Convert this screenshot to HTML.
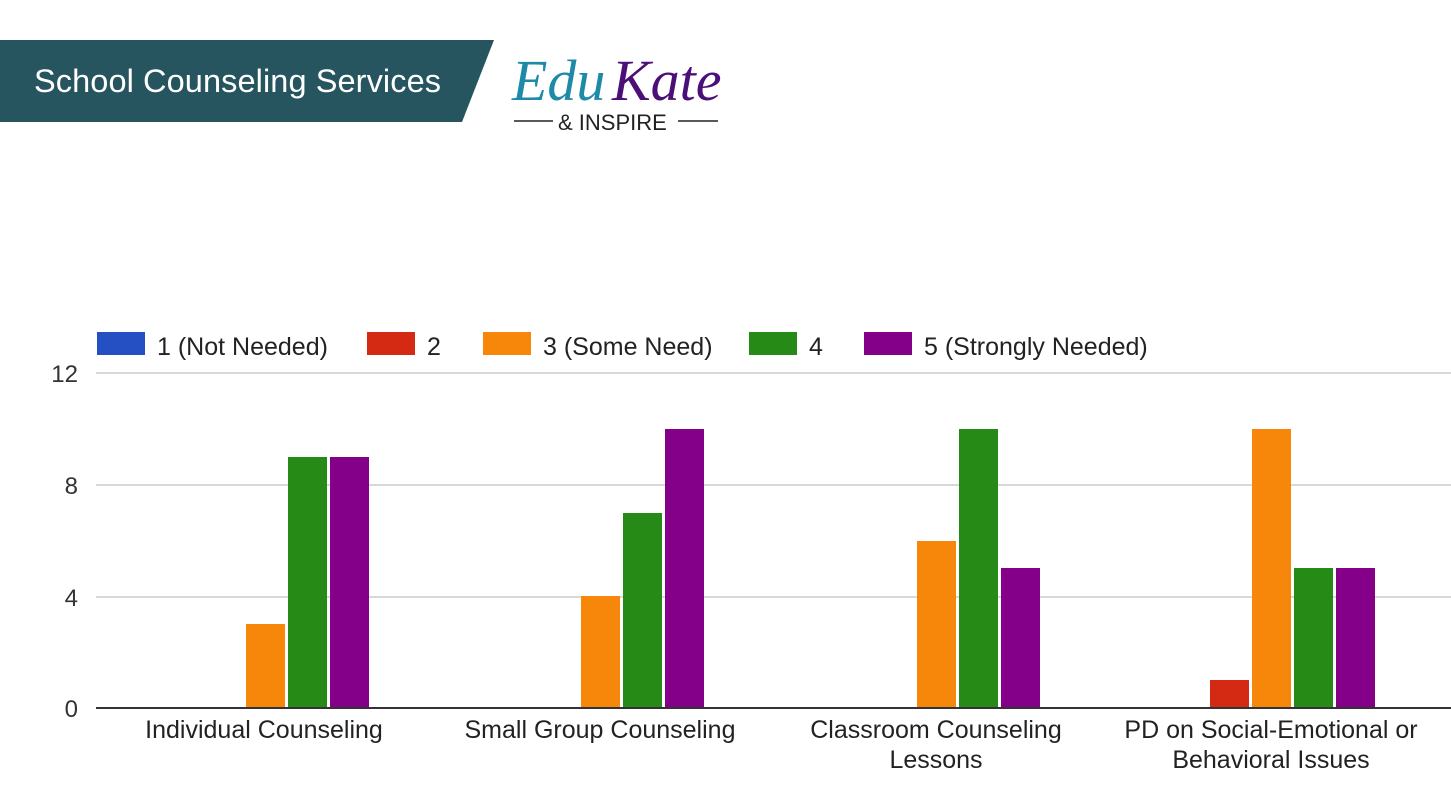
<!DOCTYPE html>
<html><head><style>
body{margin:0;width:1451px;height:798px;background:#fff;overflow:hidden;font-family:"Liberation Sans",sans-serif;}
</style></head><body>
<svg width="1451" height="798" xmlns="http://www.w3.org/2000/svg" font-family="Liberation Sans, sans-serif">
<polygon points="0,40 494,40 462,122 0,122" fill="#27555f"/>
<text x="34" y="92" font-size="32.5" fill="#fff" textLength="407">School Counseling Services</text>
<text x="512" y="100" font-size="58" font-family="Liberation Serif, serif" font-style="italic" fill="#1e8aa8">Edu</text>
<text x="612" y="100" font-size="58" font-family="Liberation Serif, serif" font-style="italic" fill="#4b0f78">Kate</text>
<line x1="514" y1="121" x2="553" y2="121" stroke="#222" stroke-width="1.5"/>
<text x="558" y="130" font-size="22" fill="#222">&amp; INSPIRE</text>
<line x1="678" y1="121" x2="718" y2="121" stroke="#222" stroke-width="1.5"/>

<g font-size="25" fill="#222">
<rect x="97" y="332" width="48" height="23" fill="#2550c4"/><text x="157" y="355">1 (Not Needed)</text>
<rect x="367" y="332" width="48" height="23" fill="#d42a14"/><text x="427" y="355">2</text>
<rect x="483" y="332" width="48" height="23" fill="#f7870b"/><text x="543" y="355">3 (Some Need)</text>
<rect x="749" y="332" width="48" height="23" fill="#258a16"/><text x="809" y="355">4</text>
<rect x="864" y="332" width="48" height="23" fill="#850088"/><text x="924" y="355">5 (Strongly Needed)</text>
</g>
<g stroke="#ccc" stroke-width="1.5">
<line x1="96" y1="373" x2="1451" y2="373"/>
<line x1="96" y1="485" x2="1451" y2="485"/>
<line x1="96" y1="597" x2="1451" y2="597"/>
</g>
<g font-size="24" fill="#333" text-anchor="end">
<text x="78" y="382">12</text><text x="78" y="494">8</text><text x="78" y="606">4</text><text x="78" y="717">0</text>
</g>
<g>
<rect x="246" y="624" width="39" height="84" fill="#f7870b"/>
<rect x="288" y="457" width="39" height="251" fill="#258a16"/>
<rect x="330" y="457" width="39" height="251" fill="#850088"/>

<rect x="581" y="596" width="39" height="112" fill="#f7870b"/>
<rect x="623" y="513" width="39" height="195" fill="#258a16"/>
<rect x="665" y="429" width="39" height="279" fill="#850088"/>

<rect x="917" y="541" width="39" height="167" fill="#f7870b"/>
<rect x="959" y="429" width="39" height="279" fill="#258a16"/>
<rect x="1001" y="568" width="39" height="140" fill="#850088"/>

<rect x="1210" y="680" width="39" height="28" fill="#d42a14"/>
<rect x="1252" y="429" width="39" height="279" fill="#f7870b"/>
<rect x="1294" y="568" width="39" height="140" fill="#258a16"/>
<rect x="1336" y="568" width="39" height="140" fill="#850088"/>
</g>
<line x1="96" y1="708" x2="1451" y2="708" stroke="#333" stroke-width="2"/>
<g font-size="25" fill="#222" text-anchor="middle">
<text x="264" y="738">Individual Counseling</text>
<text x="600" y="738">Small Group Counseling</text>
<text x="936" y="738">Classroom Counseling</text>
<text x="936" y="768">Lessons</text>
<text x="1271" y="738">PD on Social-Emotional or</text>
<text x="1271" y="768">Behavioral Issues</text>
</g>
</svg>
</body></html>
